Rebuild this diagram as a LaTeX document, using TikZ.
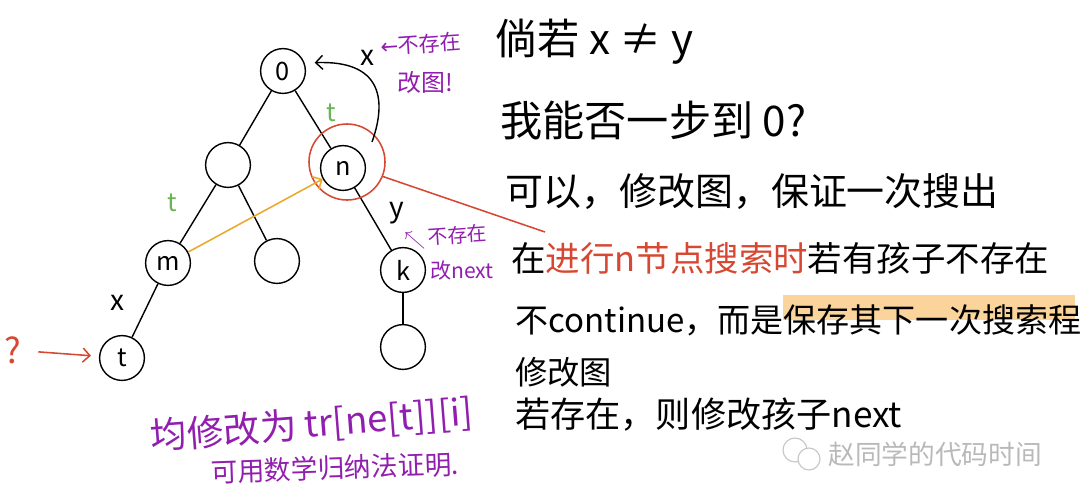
\documentclass[tikz,border=0pt]{standalone}
\usepackage{fontspec}
\setmainfont{Noto Sans CJK SC}
\newfontfamily\symfont{DejaVu Sans}
\usetikzlibrary{positioning,arrows.meta}
\definecolor{penred}{RGB}{214,72,50}
\definecolor{penpurple}{RGB}{145,30,175}
\definecolor{pengreen}{RGB}{105,180,85}
\definecolor{penorange}{RGB}{236,168,40}
\definecolor{marker}{RGB}{250,212,155}
\newcommand{\fs}[1]{\fontsize{#1}{#1}\selectfont}

\begin{document}
\begin{tikzpicture}[
    x=0.025cm, y=-0.025cm,
    vtx/.style={circle, draw, line width=1pt, minimum size=1.12cm, inner sep=0pt, font=\fs{18}},
    edge/.style={line width=1pt},
    note/.style={anchor=west, inner sep=0pt},
    pen/.style={inner sep=0pt, text=penpurple},
    tip/.style={-{Straight Barb[length=5pt, width=10pt]}}
]
    \useasboundingbox (0,0) rectangle (1080,501);

    \node[vtx] (o0) at (283,71) {0};
    \node[vtx] (a) at (228,165) {};
    \node[vtx] (n) at (343,168) {n};
    \node[vtx] (m) at (168,263) {m};
    \node[vtx] (b) at (277,261) {};
    \node[vtx] (k) at (403,270) {k};
    \node[vtx] (c) at (403,347) {};
    \node[vtx] (t) at (122,358) {t};

    \draw[edge] (o0) -- (a);
    \draw[edge] (o0) -- (n);
    \draw[edge] (a) -- (m);
    \draw[edge] (a) -- (b);
    \draw[edge] (m) -- (t);
    \draw[edge] (n) -- (k);
    \draw[edge] (k) -- (c);

    \node[text=pengreen, font=\fs{18}] (tl) at (172,203) {t};
    \node[text=pengreen, font=\fs{18}] (tr) at (331,113) {t};
    \node[font=\fs{20}] (xl) at (118,303) {x};
    \node[font=\fs{20}] (yl) at (397,213) {y};
    \node[font=\fs{20}] (xt) at (367,58) {x};

    \node[circle, draw=penred, line width=1.1pt, minimum size=1.9cm] (ring) at (347,162) {};
    \coordinate (redend) at (545,232);
    \draw[penred, line width=1.1pt] (ring.-22) -- (redend);

    \draw[penorange, line width=1.1pt, tip] (m) -- (n);

    \coordinate (loopfoot) at (372,142);
    \draw[edge, tip, shorten >=0.25cm] (loopfoot) .. controls (387,100) and (382,60) .. (o0.20);

    \node[text=penred, font=\fs{25}] (q) at (13,350) {?};
    \draw[penred, line width=1.1pt, tip, shorten <=0.3cm, shorten >=0.2cm] (q) -- (t);

    \node[pen, font=\fs{15}, rotate=4] (gone) at (421,44) {{\symfont ←}不存在};
    \node[pen, font=\fs{17}] (fix) at (425,82) {改图!};
    \node[pen, font=\fs{14}, rotate=4] (gonek) at (446,237) {$\nwarrow$\,不存在};
    \node[pen, font=\fs{15}] (fixk) at (462,271) {改next};

    \fill[marker] (783,295) rectangle (1075,320);

    \node[note, font=\fs{30}] (ifline) at (495,42) {倘若 x ≠ y};
    \node[note, font=\fs{30}] (askline) at (500,120) {我能否一步到 0?};
    \node[note, font=\fs{27}] (yesline) at (505,192) {可以，修改图，保证一次搜出};
    \node[note, font=\fs{24.5}] (searchline) at (511,258) {在\textcolor{penred}{进行n节点搜索时}若有孩子不存在};
    \node[note, font=\fs{23.5}] (keepline) at (515,320) {不continue，而是保存其下一次搜索程};
    \node[note, font=\fs{23}] (editline) at (515,372) {修改图};
    \node[note, font=\fs{25}] (elseline) at (515,415) {若存在，则修改孩子next};

    \node[pen, font=\fs{26}, rotate=4.5] (proofa) at (312,425) {均修改为 tr[ne[t]][i]};
    \node[pen, font=\fs{19}, rotate=2] (proofb) at (335,468) {可用数学归纳法证明.};

    \draw[gray!45, line width=0.8pt] (795,450) circle [radius=12];
    \filldraw[fill=white, draw=gray!45, line width=0.8pt] (809,459) circle [radius=11];
    \node[text=gray!55, font=\fs{19}, anchor=west, inner sep=0pt] (wm) at (828,454) {赵同学的代码时间};
\end{tikzpicture}
\end{document}
